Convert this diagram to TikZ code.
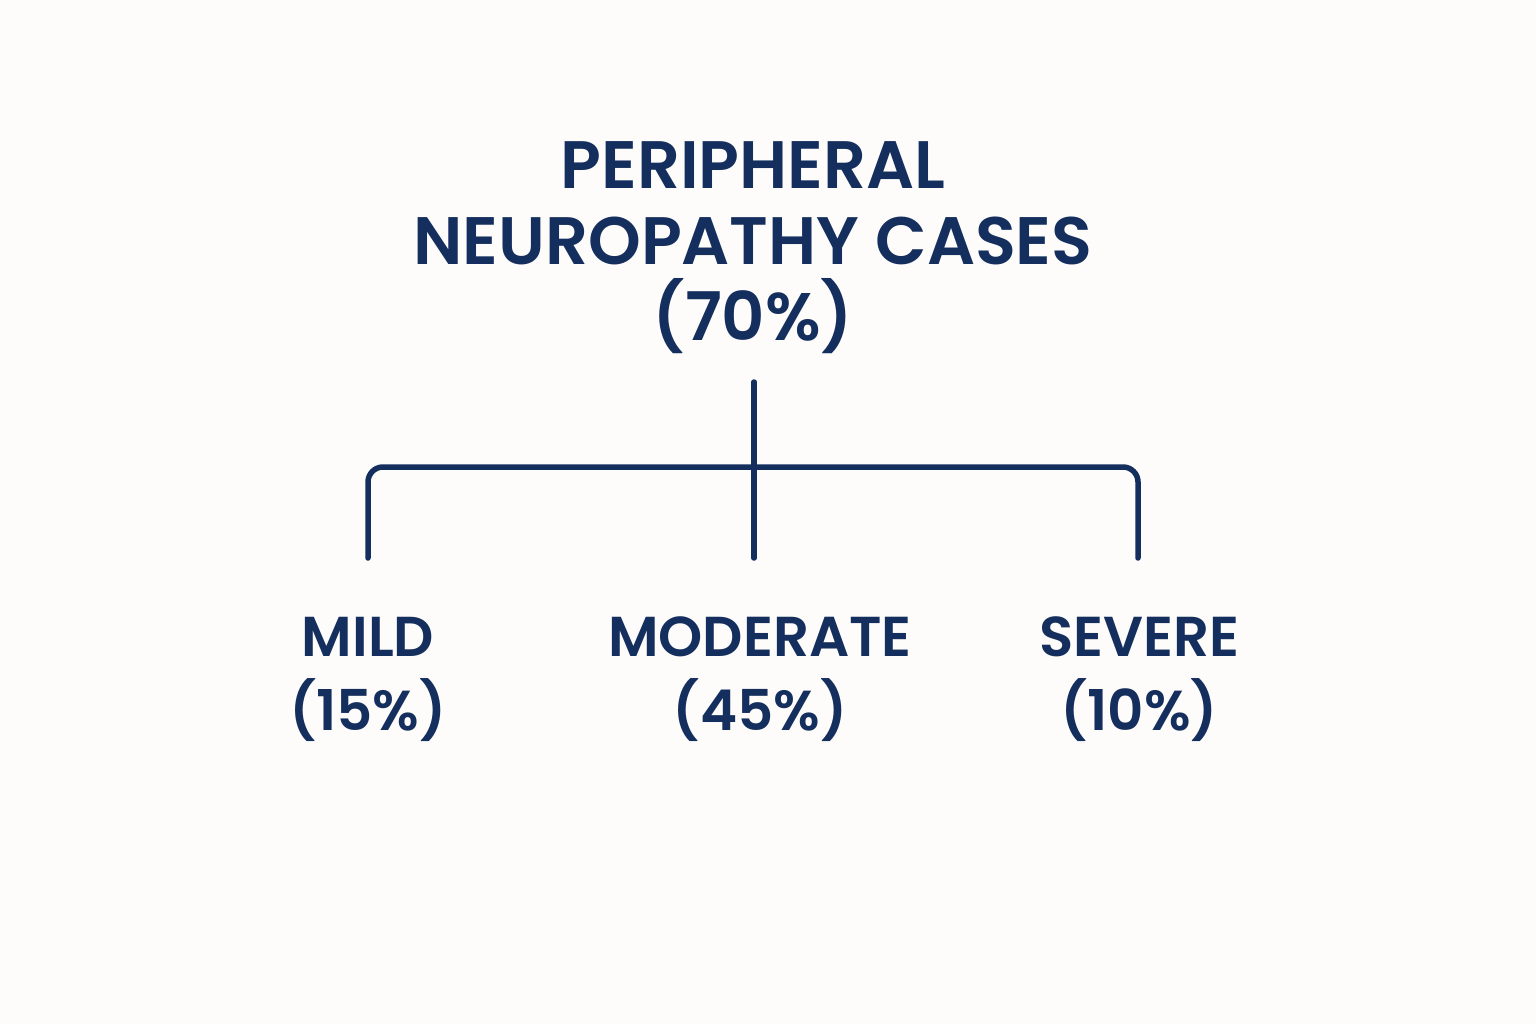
\documentclass[tikz,border=0pt]{standalone}
\usepackage{fontspec}
\setmainfont{Poppins}[BoldFont={Poppins SemiBold}]
\usepackage{tikz}
\usetikzlibrary{positioning,calc}
\definecolor{navyink}{RGB}{20,46,94}
\definecolor{paper}{RGB}{253,252,250}
\tikzset{
  titlenode/.style={align=center,text=navyink,inner sep=0pt,font=\fontsize{19.1}{21.6}\selectfont\bfseries},
  levelnode/.style={align=center,text=navyink,inner sep=0pt,font=\fontsize{16}{20.8}\selectfont\bfseries},
  link/.style={draw=navyink,line width=0.055cm,line cap=round}
}
\begin{document}
\begin{tikzpicture}
  %% Canvas
  \fill[paper] (0,0) rectangle (15.36,10.24);
  \useasboundingbox (0,0) rectangle (15.36,10.24);

  %% Root
  \node[titlenode,anchor=base] (root) at (7.53,6.84) {PERIPHERAL\\NEUROPATHY CASES\\(70\%)};

  %% Levels
  \node[levelnode,anchor=base] (mild) at (3.68,2.94) {MILD\\(15\%)};
  \node[levelnode,anchor=base] (moderate) at (7.60,2.94) {MODERATE\\(45\%)};
  \node[levelnode,anchor=base] (severe) at (11.39,2.94) {SEVERE\\(10\%)};

  %% Branch points
  \coordinate (stem) at (7.54,6.42);
  \coordinate (hub) at (7.54,5.57);
  \coordinate (lend) at (3.68,4.66);
  \coordinate (mend) at (7.54,4.66);
  \coordinate (rend) at (11.38,4.66);

  %% Connectors
  \draw[link] (stem) -- (mend);
  \draw[link,rounded corners=0.15cm] (lend) |- (hub) -| (rend);
\end{tikzpicture}
\end{document}
